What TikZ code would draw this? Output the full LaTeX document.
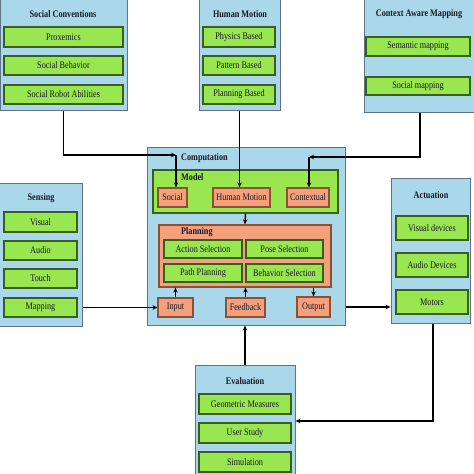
\documentclass[tikz,border=0pt]{standalone}
\usepackage{fontspec}
\setmainfont{Liberation Serif}[FakeStretch=0.82]
\usetikzlibrary{arrows.meta}
\definecolor{bluef}{RGB}{170,216,234}
\definecolor{blued}{RGB}{95,115,135}
\definecolor{greenf}{RGB}{153,230,80}
\definecolor{greend}{RGB}{55,95,30}
\definecolor{salf}{RGB}{245,160,125}
\definecolor{sald}{RGB}{140,80,50}
\definecolor{txt}{RGB}{20,25,40}
\tikzset{
  box/.style args={#1/#2/#3/#4}{rectangle, inner sep=0pt, minimum width={(#3-#1)*1pt}, minimum height={(#4-#2)*1pt}},
  outer/.style={draw=blued, fill=bluef, line width=1pt},
  grn/.style={draw=greend, fill=greenf, line width=1.2pt, font=\fontsize{10}{11}\selectfont, text=txt},
  sal/.style={draw=sald, fill=salf, line width=1.2pt, font=\fontsize{10}{11}\selectfont, text=txt},
  ttl/.style={font=\bfseries\fontsize{10}{11}\selectfont, text=txt, inner sep=0pt},
  arr/.style={line width=1.4pt, -{Stealth[length=5pt,width=4.5pt]}},
  ln/.style={line width=1.4pt}
}
\newcommand{\bx}[6]{\node[#2, box=#3/#4/#5/#6] (#1) at ({(#3+#5)/2},{(#4+#6)/2}) {};}
\newcommand{\bt}[7]{\node[#2, box=#3/#4/#5/#6] (#1) at ({(#3+#5)/2},{(#4+#6)/2}) {#7};}
\begin{document}
\begin{tikzpicture}[x=1pt,y=-1pt]
\useasboundingbox (0,0) rectangle (474,474);
% outer boxes
\bx{sc}{outer}{0.5}{-3}{127}{110}
\bx{hmb}{outer}{199}{-3}{280}{110}
\bx{cam}{outer}{364}{-3}{476}{112}
\bx{sen}{outer}{-1}{183}{82}{326}
\bx{act}{outer}{391}{178}{470}{323}
\bx{eva}{outer}{195}{365}{295}{477}
\bx{comp}{outer}{147}{147}{345}{325}
% titles
\node[ttl] (tsc) at (63,14) {Social Conventions};
\node[ttl] (thm) at (240,14) {Human Motion};
\node[ttl] (tcam) at (419,14) {Context Aware Mapping};
\node[ttl] (tsen) at (41,198) {Sensing};
\node[ttl] (tact) at (431,195) {Actuation};
\node[ttl] (teva) at (245,381) {Evaluation};
\node[ttl, anchor=west] (tcomp) at (181,158) {Computation};
% social conventions
\bt{prox}{grn}{4}{27}{123}{47}{Proxemics}
\bt{sbeh}{grn}{4}{56}{123}{75}{Social Behavior}
\bt{srab}{grn}{4}{85}{123}{104}{Social Robot Abilities}
% human motion
\bt{phys}{grn}{203}{27}{275}{47}{Physics Based}
\bt{patt}{grn}{203}{56}{275}{75}{Pattern Based}
\bt{plb}{grn}{203}{85}{275}{104}{Planning Based}
% context aware mapping
\bt{sem}{grn}{366}{37}{470}{56}{Semantic mapping}
\bt{socm}{grn}{366}{77}{470}{95}{Social mapping}
% sensing
\bt{vis}{grn}{4}{212}{77}{232}{Visual}
\bt{aud}{grn}{4}{241}{77}{260}{Audio}
\bt{tou}{grn}{4}{269}{77}{288}{Touch}
\bt{map}{grn}{4}{298}{77}{317}{Mapping}
% actuation
\bt{vdev}{grn}{396}{216}{468}{240}{Visual devices}
\bt{adev}{grn}{396}{253}{468}{277}{Audio Devices}
\bt{mot}{grn}{396}{290}{468}{314}{Motors}
% evaluation
\bt{geo}{grn}{199}{394}{291}{414}{Geometric Measures}
\bt{ust}{grn}{199}{423}{291}{443}{User Study}
\bt{sim}{grn}{199}{452}{291}{472}{Simulation}
% computation internals
\bx{model}{grn}{153}{170}{338}{213}
\node[ttl, anchor=west] (tmodel) at (181,177) {Model};
\bt{soc}{sal}{158}{188}{187}{207}{Social}
\bt{hmn}{sal}{213}{188}{270}{207}{Human Motion}
\bt{ctx}{sal}{287}{188}{329}{207}{Contextual}
\bx{plan}{sal}{159}{225}{331}{287}
\node[ttl, anchor=west] (tplan) at (181,232) {Planning};
\bt{acts}{grn}{164}{240}{242}{258}{Action Selection}
\bt{pose}{grn}{246}{240}{323}{258}{Pose Selection}
\bt{path}{grn}{164}{264}{242}{282}{Path Planning}
\bt{behs}{grn}{246}{264}{323}{282}{Behavior Selection}
\bt{inp}{sal}{158}{298}{193}{317}{Input}
\bt{fdb}{sal}{226}{298}{265}{317}{Feedback}
\bt{outp}{sal}{297}{297}{330}{317}{Output}
% connectors
\coordinate (j1) at (176,155);
\coordinate (j2) at (309,157);
\coordinate (j3) at (433,421);
\draw[arr] (sc.south) |- (j1);
\draw[arr] (j1) -- (j1 |- soc.north);
\draw[arr] (hmb.south) -- (hmb.south |- hmn.north);
\draw[arr] (cam.south) |- (j2);
\draw[arr] (j2) -- (j2 |- ctx.north);
\draw[arr] (model.south) -- (plan.north);
\draw[arr] (inp.north) -- (inp.north |- plan.south);
\draw[arr] (fdb.north) -- (fdb.north |- plan.south);
\draw[arr] (outp.north |- plan.south) -- (outp.north);
\draw[arr] (sen.east |- inp.west) -- (inp.west);
\draw[arr] (comp.east |- outp.east) -- (act.west |- outp.east);
\draw[arr] (act.south -| j3) -- (j3) -- (eva.east |- j3);
\draw[arr] (eva.north) -- (comp.south -| eva.north);
\end{tikzpicture}
\end{document}
